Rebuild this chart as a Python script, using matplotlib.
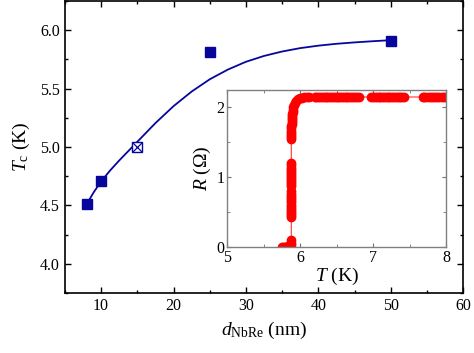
import numpy as np
import matplotlib
matplotlib.use("Agg")
import matplotlib.pyplot as plt
from matplotlib.ticker import MultipleLocator

plt.rcParams['font.family'] = ['Liberation Serif', 'DejaVu Serif']
plt.rcParams['mathtext.fontset'] = 'custom'
plt.rcParams['mathtext.rm'] = 'Liberation Serif'
plt.rcParams['mathtext.it'] = 'Liberation Serif:italic'

# main panel: Tc vs NbRe thickness
d_filled = [8, 10, 25, 50]
tc_filled = [4.51, 4.71, 5.815, 5.91]
d_open = [15]
tc_open = [5.0]

# fitted curve
d_fit = [8, 9, 10, 11.25, 12.5, 15, 17.5, 20, 22.5, 25, 27.5, 30, 32.5, 35,
         37.5, 40, 42.5, 45, 47.5, 50]
tc_fit = [4.51, 4.615, 4.705, 4.80, 4.885, 5.045, 5.205, 5.35, 5.475, 5.58,
          5.663, 5.73, 5.78, 5.818, 5.847, 5.868, 5.884, 5.896, 5.906, 5.915]

# inset: R(T) transition
T_R = [5.75, 5.77, 5.79, 5.81, 5.83, 5.85, 5.87, 5.88, 5.88,
       5.88, 5.88, 5.88, 5.88, 5.88, 5.88, 5.88, 5.88, 5.88, 5.88, 5.88, 5.88, 5.88,
       5.88, 5.88, 5.88, 5.88, 5.88, 5.88, 5.88, 5.88, 5.88, 5.88, 5.88, 5.88,
       5.88, 5.88, 5.88, 5.88, 5.88, 5.88, 5.88, 5.885, 5.885, 5.89, 5.89, 5.89,
       5.895, 5.90, 5.905, 5.91, 5.92, 5.93, 5.95, 5.97, 6.0, 6.03, 6.06, 6.09, 6.12,
       6.2, 6.225, 6.25, 6.275, 6.3, 6.325, 6.35, 6.375, 6.4, 6.425, 6.45, 6.475,
       6.5, 6.525, 6.55, 6.575, 6.6, 6.625, 6.65, 6.675, 6.7, 6.725, 6.75, 6.78, 6.81,
       6.97, 7.0, 7.025, 7.05, 7.075, 7.1, 7.125, 7.15, 7.175, 7.2, 7.225, 7.25,
       7.275, 7.3, 7.325, 7.35, 7.375, 7.4, 7.43,
       7.68, 7.7, 7.73, 7.76, 7.79, 7.82, 7.85, 7.88, 7.91, 7.94, 7.97, 8.0]
R_T = [0.0, 0.0, 0.0, 0.005, 0.01, 0.015, 0.03, 0.06, 0.10,
       0.43, 0.46, 0.49, 0.52, 0.55, 0.58, 0.61, 0.64, 0.67, 0.70, 0.73, 0.76, 0.80,
       0.87, 0.90, 0.93, 0.96, 0.99, 1.02, 1.05, 1.08, 1.11, 1.14, 1.17, 1.20,
       1.55, 1.58, 1.61, 1.64, 1.67, 1.70, 1.73, 1.76, 1.79, 1.82, 1.85, 1.88,
       1.91, 1.94, 1.97, 2.0, 2.03, 2.06, 2.09, 2.115, 2.13, 2.14, 2.145, 2.15, 2.15,
       2.15, 2.15, 2.15, 2.15, 2.15, 2.15, 2.15, 2.15, 2.15, 2.15, 2.15, 2.15,
       2.15, 2.15, 2.15, 2.15, 2.15, 2.15, 2.15, 2.15, 2.15, 2.15, 2.15, 2.15, 2.15,
       2.15, 2.15, 2.15, 2.15, 2.15, 2.15, 2.15, 2.15, 2.15, 2.15, 2.15, 2.15,
       2.15, 2.15, 2.15, 2.15, 2.15, 2.15, 2.15,
       2.15, 2.15, 2.15, 2.15, 2.15, 2.15, 2.15, 2.15, 2.15, 2.15, 2.15, 2.15]

BLUE = '#06069c'
RED = '#ff0000'

fig = plt.figure(figsize=(4.74, 3.53), dpi=100)
ax = fig.add_axes([0.137, 0.170, 0.840, 0.827])

ax.plot(d_fit, tc_fit, '-', color=BLUE, lw=1.3, solid_joinstyle='round')
ax.plot(d_filled, tc_filled, 's', color=BLUE, ms=7.5, ls='none')
ax.plot(d_open, tc_open, 's', mfc='white', mec=BLUE, mew=1.0, ms=7.5, ls='none')
ax.plot(d_open, tc_open, 'x', color=BLUE, mew=0.9, ms=6.5, ls='none')

ax.set_xlim(5, 60)
ax.set_ylim(3.75, 6.25)
ax.xaxis.set_major_locator(MultipleLocator(10))
ax.xaxis.set_minor_locator(MultipleLocator(5))
ax.yaxis.set_major_locator(MultipleLocator(0.5))
ax.yaxis.set_minor_locator(MultipleLocator(0.25))
ax.yaxis.set_major_formatter(matplotlib.ticker.FormatStrFormatter('%.1f'))
ax.tick_params(which='both', direction='in', top=True, right=True, labelsize=11.5)
ax.tick_params(which='major', length=4, width=1)
ax.tick_params(which='minor', length=2.5, width=1)
for s in ax.spines.values():
    s.set_linewidth(1.2)
ax.set_xlabel(r'$d_{\rm NbRe}$ (nm)', fontsize=14, labelpad=4)
ax.set_ylabel(r'$T_{\rm c}$ (K)', fontsize=14, labelpad=6)

ins = fig.add_axes([0.479, 0.300, 0.462, 0.445])
ins.plot(T_R, R_T, '-', color=RED, lw=0.8, alpha=0.8)
ins.plot(T_R, R_T, 'o', color=RED, ms=6, ls='none')
ins.set_xlim(5, 8)
ins.set_ylim(0, 2.25)
ins.xaxis.set_major_locator(MultipleLocator(1))
ins.xaxis.set_minor_locator(MultipleLocator(0.5))
ins.yaxis.set_major_locator(MultipleLocator(1))
ins.yaxis.set_minor_locator(MultipleLocator(0.5))
ins.tick_params(which='both', direction='in', top=True, right=True,
                labelsize=11.5, color='#707070', pad=2)
ins.tick_params(which='major', length=3)
ins.tick_params(which='minor', length=2)
for s in ins.spines.values():
    s.set_color('#808080')
    s.set_linewidth(1.0)
ins.set_xlabel(r'$T$ (K)', fontsize=14, labelpad=0)
ins.set_ylabel(r'$R$ ($\Omega$)', fontsize=14, labelpad=2)

fig.savefig('out.png', dpi=100)
